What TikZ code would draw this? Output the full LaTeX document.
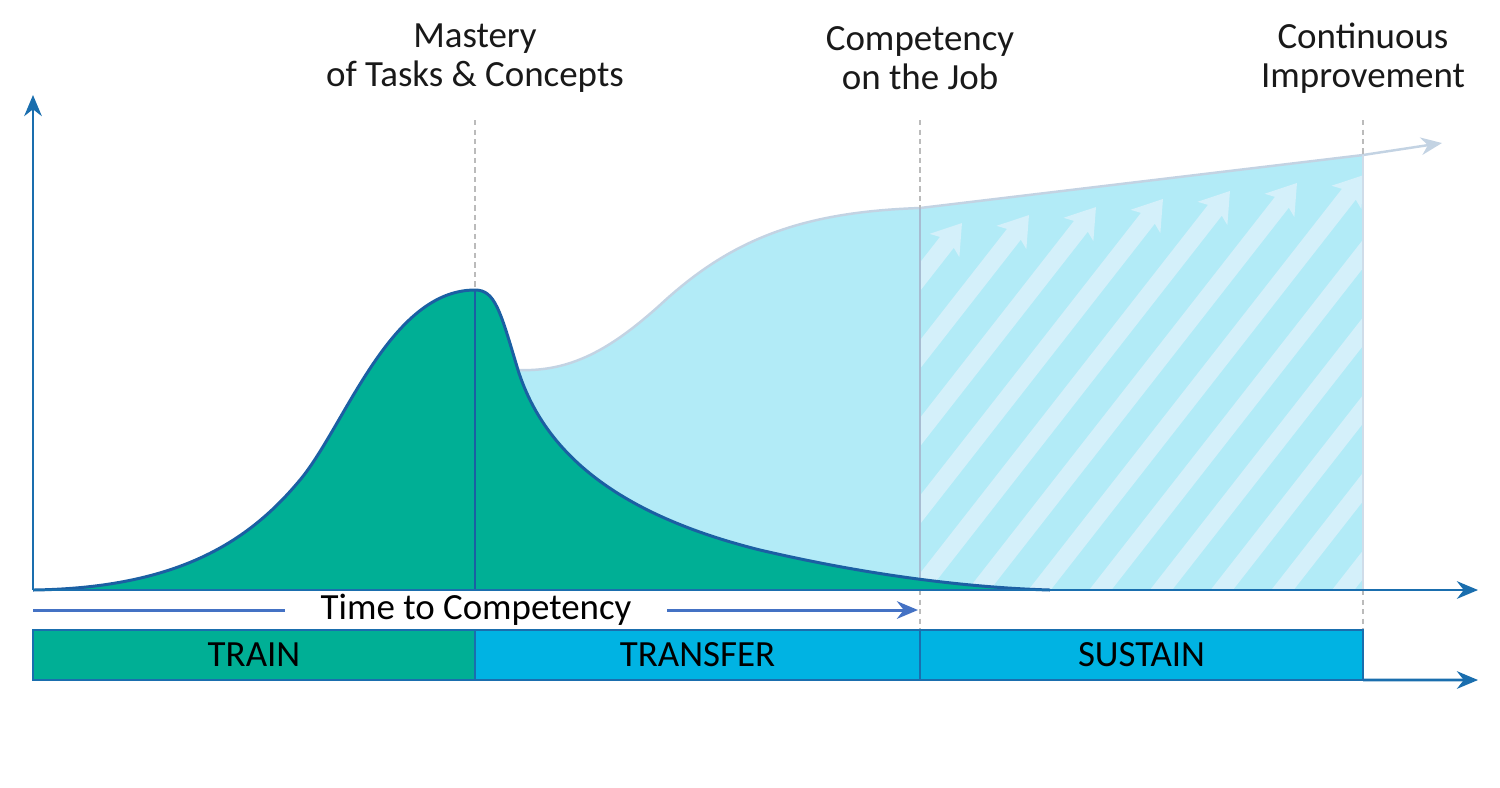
\documentclass[tikz,border=0pt]{standalone}
\usepackage{fontspec}
\setmainfont{Carlito}
\usetikzlibrary{arrows.meta}
\definecolor{tgreen}{HTML}{00AF95}
\definecolor{tbar}{HTML}{00B3E3}
\definecolor{tlight}{HTML}{B2EBF7}
\definecolor{tstripe}{HTML}{D4F0FA}
\definecolor{toutline}{HTML}{1B5FA3}
\definecolor{taxis}{HTML}{1A6EAE}
\definecolor{ttop}{HTML}{C3D3E3}
\definecolor{tinner}{HTML}{A8BCD2}
\definecolor{tarrow}{HTML}{4472C4}
\definecolor{tdash}{HTML}{BBBBBB}
\tikzset{
  axisline/.style={draw=taxis, line width=0.8pt, -{Stealth[length=6pt,width=5pt]}},
  guide/.style={draw=tdash, line width=0.6pt, dash pattern=on 1.5pt off 1.2pt},
  barbox/.style={draw=taxis, line width=0.7pt, minimum height=0.5cm, inner sep=0pt, outer sep=0pt, text=black},
  toplabel/.style={align=center, text=black!90},
  stripe/.style={draw=tstripe, line width=5pt},
}
\begin{document}
\begin{tikzpicture}[x=0.01cm, y=-0.01cm, font=\fontsize{10.5}{11.2}\selectfont]
\useasboundingbox (0,0) rectangle (1500,787);

% key coordinates
\coordinate (O) at (33,590);
\coordinate (ytop) at (33,95);
\coordinate (xend) at (1478,590);
\coordinate (peak) at (475,290);
\coordinate (peakbase) at (475,590);
\coordinate (meet) at (518,370);
\coordinate (cj) at (920,208);
\coordinate (cjbase) at (920,590);
\coordinate (ci) at (1363,155);
\coordinate (cibase) at (1363,590);
\coordinate (ciarrow) at (1442,143);

% light blue transfer/sustain region
\fill[tlight] (meet) .. controls (570,372) and (610,350) .. (660,305)
  .. controls (730,240) and (800,212) .. (cj) -- (ci) -- (cibase) -- (518,590) -- cycle;

% stripes with arrows in the sustain region
\begin{scope}
  \clip (cj) -- (ci) -- (cibase) -- (cjbase) -- cycle;
  \foreach \k in {-9,...,-1,7,8,9,10,11,12,13}{
    \pgfmathsetmacro{\tx}{962+67*\k}
    \pgfmathsetmacro{\ty}{223-(\tx-962)*0.11964}
    \draw[stripe] (\tx,\ty) -- ++(-0.616*900,0.788*900);
  }
  \foreach \k in {0,...,6}{
    \pgfmathsetmacro{\tx}{962+67*\k}
    \pgfmathsetmacro{\ty}{223-(\tx-962)*0.11964}
    \draw[stripe, -{Stealth[length=8pt,width=10.5pt,inset=2pt]}] (\tx,\ty) ++(-0.616*900,0.788*900) -- (\tx,\ty);
  }
\end{scope}

% upper boundary and continuation arrow
\draw[ttop, line width=0.7pt] (meet) .. controls (570,372) and (610,350) .. (660,305)
  .. controls (730,240) and (800,212) .. (cj) -- (ci);
\draw[ttop, line width=0.7pt, -{Stealth[length=6pt,width=5pt]}] (ci) -- (ciarrow);
\draw[tinner, line width=0.7pt] (cj) -- (cjbase);
\draw[ttop!80!white, line width=0.5pt] (ci) -- (cibase);

% green train curve
\fill[tgreen] (O) .. controls (180,588) and (250,540) .. (300,480)
  .. controls (345,426) and (390,290) .. (peak)
  .. controls (495,290) and (500,310) .. (meet)
  .. controls (545,455) and (620,515) .. (760,550)
  .. controls (880,578) and (980,588) .. (1050,590) -- cycle;
\draw[toutline, line width=0.85pt] (O) .. controls (180,588) and (250,540) .. (300,480)
  .. controls (345,426) and (390,290) .. (peak)
  .. controls (495,290) and (500,310) .. (meet)
  .. controls (545,455) and (620,515) .. (760,550)
  .. controls (880,578) and (980,588) .. (1050,590);
\draw[toutline, line width=0.75pt] (peak) -- (peakbase);

% dashed guides
\draw[guide] (475,120) -- (peak);
\draw[guide] (920,120) -- (cj);
\draw[guide] (cjbase) -- (920,630);
\draw[guide] (1363,120) -- (ci);
\draw[guide] (cibase) -- (1363,630);

% axes
\draw[axisline] (O) -- (ytop);
\draw[axisline] (O) -- (xend);

% time to competency
\coordinate (tl) at (33,610);
\coordinate (tr) at (918,610);
\node[inner xsep=0.35cm, inner ysep=0pt, text=black] (ttc) at (476,610) {Time to Competency};
\draw[tarrow, line width=0.85pt] (tl) -- (ttc.west);
\draw[tarrow, line width=0.85pt, -{Stealth[length=6pt,width=5pt]}] (ttc.east) -- (tr);

% phase bar
\node[barbox, fill=tgreen, minimum width=4.42cm] (train) at (254,655) {TRAIN};
\node[barbox, fill=tbar, minimum width=4.45cm] (transfer) at (697.5,655) {TRANSFER};
\node[barbox, fill=tbar, minimum width=4.43cm] (sustain) at (1141.5,655) {SUSTAIN};
\coordinate (bend) at (1478,680);
\draw[axisline] (sustain.south east) -- (bend);

% top labels
\node[toplabel] (mastery) at (475,58) {Mastery\\of Tasks \& Concepts};
\node[toplabel] (compjob) at (920,58) {Competency\\on the Job};
\node[toplabel] (contimp) at (1363,58) {Continuous\\Improvement};
\end{tikzpicture}
\end{document}
